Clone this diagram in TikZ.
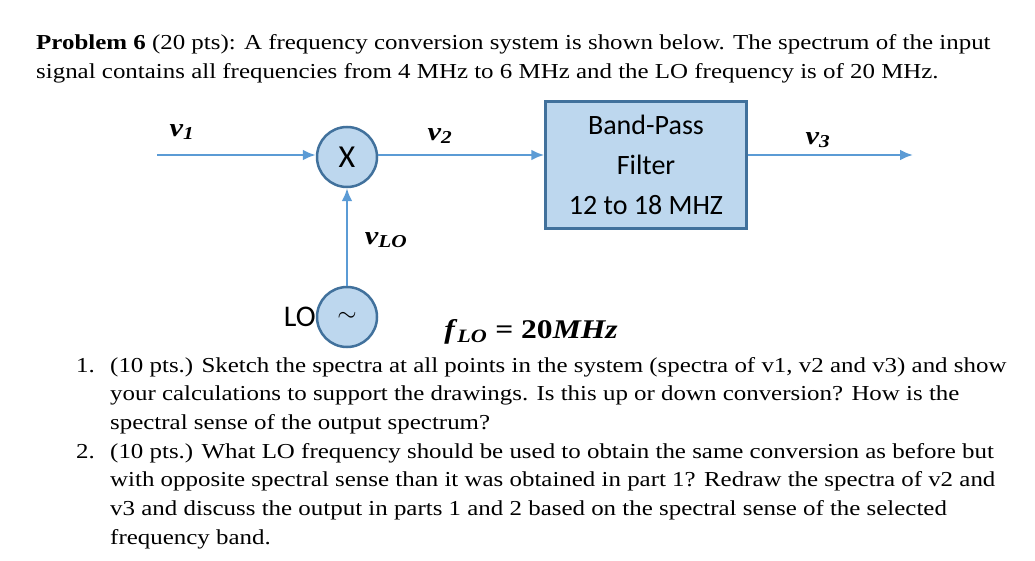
\documentclass[tikz,border=0pt]{standalone}
\usepackage{fontspec}
\setmainfont{Liberation Serif}[FakeStretch=1.17]
\newfontfamily\calib{Carlito}
\usetikzlibrary{arrows.meta}
\definecolor{ln}{RGB}{91,155,213}
\definecolor{fl}{RGB}{189,215,238}
\definecolor{bd}{RGB}{65,113,156}
\begin{document}
\begin{tikzpicture}[x=1pt,y=-1pt,
  txt/.style={anchor=base west,inner sep=0pt,font=\fontsize{21.3}{25}\selectfont},
  lab/.style={inner sep=0pt,font=\fontsize{26}{30}\selectfont\bfseries\itshape},
  cir/.style={circle,draw=bd,line width=2.5pt,fill=fl,minimum size=60pt,inner sep=0pt,font=\calib\fontsize{32}{36}\selectfont},
  sig/.style={draw=ln,line width=2.5pt,-{Latex[length=13pt,width=11pt]}}]
\useasboundingbox (0,0) rectangle (1035,561);
\node[txt] at (36,50) {\textbf{Problem 6} (20 pts): A frequency conversion system is shown below. The spectrum of the input};
\node[txt] at (36,79) {signal contains all frequencies from 4 MHz to 6 MHz and the LO frequency is of 20 MHz.};
\coordinate (in) at (157,155);
\node[cir] (mix) at (347,157) {X};
\node[cir] (lo) at (347,317) {$\sim$};
\node[draw=bd,line width=2.5pt,fill=fl,minimum width=201pt,minimum height=127pt,align=center,font=\calib\fontsize{28}{40}\selectfont] (bpf) at (646,165) {Band-Pass\\Filter\\12 to 18 MHZ};
\coordinate (out) at (913,155);
\draw[sig] (in) -- (in -| mix.west);
\draw[sig] (mix.east |- in) -- (in -| bpf.west);
\draw[sig] (in -| bpf.east) -- (out);
\draw[sig] (lo.north) -- (mix.south);
\node[lab] at (182,132) {v\textsubscript{\itshape 1}};
\node[lab] at (440,136) {v\textsubscript{\itshape 2}};
\node[lab] at (818,140) {v\textsubscript{\itshape 3}};
\node[lab] at (386,240) {v\textsubscript{\itshape LO}};
\node[inner sep=0pt,font=\calib\fontsize{30}{34}\selectfont,anchor=east] at (316,317) {LO};
\node[inner sep=0pt,font=\fontsize{27}{30}\selectfont\bfseries] at (531,332) {\textit{f}\textsubscript{\itshape LO} = 20\textit{MHz}};
\foreach \n/\y/\tx in {1./372/(10 pts.) Sketch the spectra at all points in the system (spectra of v1{,} v2 and v3) and show,
 /400/your calculations to support the drawings. Is this up or down conversion? How is the,
 /429/spectral sense of the output spectrum?,
 2./458/(10 pts.) What LO frequency should be used to obtain the same conversion as before but,
 /486/with opposite spectral sense than it was obtained in part 1? Redraw the spectra of v2 and,
 /515/v3 and discuss the output in parts 1 and 2 based on the spectral sense of the selected,
 /544/frequency band.}
 {\node[txt] at (76,\y) {\n}; \node[txt] at (110,\y) {\tx};}
\end{tikzpicture}
\end{document}
